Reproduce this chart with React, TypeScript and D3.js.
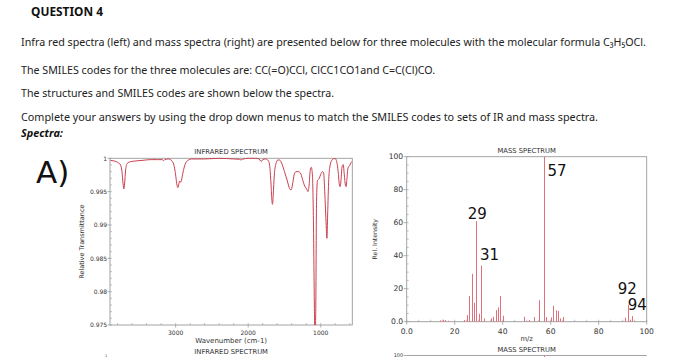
import React from "react";
import * as d3 from "d3";

// ---------- data ----------
const irWavenumber = [
  3900, 3850, 3800, 3760, 3740, 3725, 3714, 3703, 3690, 3670, 3620, 3550, 3450, 3350, 3250, 3185, 3165, 3150, 3100,
  3050, 3020, 3000, 2985, 2970, 2955, 2945, 2932, 2920, 2900, 2870, 2830, 2780, 2600, 2400, 2200, 2120, 2100, 2080,
  2000, 1900, 1850, 1830, 1815, 1800, 1760, 1720, 1700, 1685, 1672, 1665, 1655, 1640, 1620, 1590, 1570, 1540, 1500,
  1460, 1430, 1410, 1390, 1365, 1340, 1310, 1280, 1250, 1220, 1195, 1175, 1160, 1145, 1130, 1115, 1100, 1088, 1078,
  1068, 1058, 1045, 1020, 1000, 975, 960, 945, 925, 915, 905, 890, 870, 850, 820, 800, 780, 760, 745, 732, 720, 705,
  690, 675, 660, 650, 640, 625, 600, 580, 565,
];
const irTransmittance = [
  0.9997, 0.9996, 0.9994, 0.999, 0.998, 0.9962, 0.9954, 0.9963, 0.9982, 0.9992, 0.9995, 0.9996, 0.9997, 0.9998,
  0.9998, 0.9998, 0.99965, 0.9998, 0.9999, 0.9996, 0.9988, 0.9975, 0.9962, 0.9956, 0.9962, 0.9966, 0.9964, 0.9967,
  0.9978, 0.9991, 0.9997, 0.9999, 0.9999, 1.0, 0.9999, 0.99985, 0.99975, 0.99985, 1.0, 1.0, 0.9999, 0.9996, 0.99955,
  0.9998, 0.9999, 0.9996, 0.9985, 0.996, 0.9935, 0.9931, 0.9945, 0.9975, 0.9991, 0.99975, 0.99975, 0.9993, 0.998,
  0.9966, 0.99545, 0.99525, 0.996, 0.9976, 0.998, 0.998, 0.9978, 0.9968, 0.9958, 0.9954, 0.995, 0.996, 0.9982,
  0.99865, 0.9975, 0.99, 0.978, 0.9725, 0.978, 0.9935, 0.99665, 0.997, 0.9976, 0.998, 0.9978, 0.995, 0.99, 0.988,
  0.9915, 0.9968, 0.999, 0.99965, 0.99995, 0.99995, 0.9995, 0.998, 0.9962, 0.99575, 0.9968, 0.9988, 0.99905, 0.9975,
  0.996, 0.99575, 0.9968, 0.9985, 0.99895, 0.9994, 0.99955,
];
const irYTicks = [1, 0.995, 0.99, 0.985, 0.98, 0.975];
const irYTickLabels = ["1", "0.995", "0.99", "0.985", "0.98", "0.975"];
const irXTicks = [3000, 2000, 1000];

const msMz = [
  14, 15, 16, 17, 24, 25, 26, 27, 28, 29, 30, 31, 32, 35, 36, 37, 38, 39, 40, 49, 51, 53, 55, 57, 58, 60, 61, 62, 63,
  64, 65, 91, 92, 93, 94,
];
const msIntensity = [
  0.8, 1.2, 1.0, 0.6, 1.0, 4.0, 15.5, 29, 11.5, 61, 4.8, 34, 2.0, 2.0, 3.0, 7.0, 8.7, 15.6, 3.6, 3.0, 1.0, 2.8, 13,
  100, 2.8, 2.6, 9.7, 6.9, 6.5, 2.0, 2.8, 2.4, 10.3, 1.2, 3.4,
];
const msYTicks = [0, 20, 40, 60, 80, 100];
const msYTickLabels = ["0.0", "20", "40", "60", "80", "100"];
const msXTicks = [0, 20, 40, 60, 80, 100];
const msXTickLabels = ["0.0", "20", "40", "60", "80", "100"];
const msLabelText = ["57", "29", "31", "92", "94"];
const msLabelMz = [58.7, 25.4, 30.5, 87.9, 92.1];
const msLabelAt = [88.5, 62.4, 37.6, 17.0, 7.3];

const headerLines = [
  "Infra red spectra (left) and mass spectra (right) are presented below for three molecules with the molecular formula C\u2083H\u2085OCl.",
  "The SMILES codes for the three molecules are: CC(=O)CCl, ClCC1CO1and C=C(Cl)CO.",
  "The structures and SMILES codes are shown below the spectra.",
  "Complete your answers by using the drop down menus to match the SMILES codes to sets of IR and mass spectra.",
];

// ---------- component ----------
export default function App() {
  const W = 700;
  const H = 357;

  // IR
  const irL = 110, irR = 352.3, irT = 158.3, irB = 325;
  const irX = d3.scaleLinear().domain([3905, 565]).range([irL, irR]);
  const irY = d3.scaleLinear().domain([0.975, 1]).range([irB, irT]);
  const irPts = irWavenumber.map((w, i) => [irX(w), irY(irTransmittance[i])] as [number, number]);
  const irPath = d3.line().curve(d3.curveMonotoneX)(irPts) || "";
  const irMinorY = d3.range(0.975, 1.0001, 0.001);
  const irMinorX = d3.range(3800, 565, -200);

  // MS
  const msL = 406.7, msR = 646.7, msT = 156.7, msB = 321.7;
  const msX = d3.scaleLinear().domain([0, 100]).range([msL, msR]);
  const msY = d3.scaleLinear().domain([0, 100]).range([msB, msT]);
  const msMinor = d3.range(0, 100.1, 5);
  const px = (v: number) => Math.round(v) + 0.5;

  const font = "'DejaVu Sans', sans-serif";
  const bodyFont = "'Noto Sans', 'Open Sans', sans-serif";
  const frame = "#9a9a9a";
  const txt = "#333";
  const peak = "#e0707c";
  const bodySize = 11.2;

  return (
    <svg width={W} height={H} style={{ position: "absolute", left: 0, top: 0, background: "#fff" }}>
      <rect x={0} y={0} width={W} height={H} fill="#fff" />
      {/* Header */}
      <text x={31} y={16} fontFamily={bodyFont} fontWeight="bold" fontSize={12.5} fill="#111" textLength={72} lengthAdjust="spacingAndGlyphs">
        QUESTION 4
      </text>
      <text x={21} y={45.5} fontFamily={bodyFont} fontSize={bodySize} fill="#222" textLength={625} lengthAdjust="spacingAndGlyphs">
        {headerLines[0]}
      </text>
      <text x={21} y={74} fontFamily={bodyFont} fontSize={bodySize} fill="#222" textLength={414} lengthAdjust="spacingAndGlyphs">
        {headerLines[1]}
      </text>
      <text x={21} y={96.5} fontFamily={bodyFont} fontSize={bodySize} fill="#222" textLength={313} lengthAdjust="spacingAndGlyphs">
        {headerLines[2]}
      </text>
      <text x={21} y={120.5} fontFamily={bodyFont} fontSize={bodySize} fill="#222" textLength={577} lengthAdjust="spacingAndGlyphs">
        {headerLines[3]}
      </text>
      <text x={21} y={137} fontFamily={bodyFont} fontSize={11.2} fontWeight="bold" fontStyle="italic" fill="#111" textLength={42} lengthAdjust="spacingAndGlyphs">
        Spectra:
      </text>
      <text x={36} y={183} fontFamily={font} fontSize={31} fill="#111">
        A)
      </text>

      {/* IR chart */}
      <defs>
        <clipPath id="irclip">
          <rect x={irL} y={irT - 1} width={irR - irL} height={irB - irT + 1} />
        </clipPath>
      </defs>
      <text x={(irL + irR) / 2} y={154.3} textAnchor="middle" fontFamily={font} fontSize={6.8} fill={txt}>
        INFRARED SPECTRUM
      </text>
      {irMinorY.map((v, i) => (
        <line key={"iym" + i} x1={irL} x2={irL + 2} y1={irY(v)} y2={irY(v)} stroke={frame} strokeWidth={0.6} />
      ))}
      {irMinorX.map((v, i) => (
        <line key={"ixm" + i} x1={irX(v)} x2={irX(v)} y1={irB} y2={irB - 2} stroke={frame} strokeWidth={0.6} />
      ))}
      {irYTicks.map((v, i) => (
        <g key={"iy" + i}>
          <line x1={irL - 2.5} x2={irL} y1={irY(v)} y2={irY(v)} stroke={frame} strokeWidth={0.8} />
          <text x={irL - 2.8} y={irY(v) + 2.2} textAnchor="end" fontFamily={font} fontSize={6} fill={txt}>
            {irYTickLabels[i]}
          </text>
        </g>
      ))}
      {irXTicks.map((v, i) => (
        <g key={"ix" + i}>
          <line x1={irX(v)} x2={irX(v)} y1={irB} y2={irB + 2.5} stroke={frame} strokeWidth={0.8} />
          <text x={irX(v)} y={334.5} textAnchor="middle" fontFamily={font} fontSize={6} fill={txt}>
            {v}
          </text>
        </g>
      ))}
      <rect x={irL} y={irT} width={irR - irL} height={irB - irT} fill="none" stroke={frame} strokeWidth={0.9} />
      <path d={irPath} fill="none" stroke="#c9404f" strokeWidth={1} clipPath="url(#irclip)" />
      <text x={(irL + irR) / 2} y={342.8} textAnchor="middle" fontFamily={font} fontSize={7} fill={txt}>
        Wavenumber (cm-1)
      </text>
      <text x={(irL + irR) / 2} y={354.2} textAnchor="middle" fontFamily={font} fontSize={6.8} fill={txt}>
        INFRARED SPECTRUM
      </text>
      <text transform={`translate(83.5,${(irT + irB) / 2}) rotate(-90)`} textAnchor="middle" fontFamily={font} fontSize={6.5} fill={txt}>
        Relative Transmittance
      </text>
      <text x={irL - 2.8} y={356.5} textAnchor="end" fontFamily={font} fontSize={3.5} fill={txt}>
        1
      </text>

      {/* Mass spectrum */}
      <text x={(msL + msR) / 2} y={152.7} textAnchor="middle" fontFamily={font} fontSize={6.8} fill={txt}>
        MASS SPECTRUM
      </text>
      {msMinor.map((v, i) => (
        <g key={"mm" + i}>
          <line x1={msL} x2={msL + 2} y1={msY(v)} y2={msY(v)} stroke={frame} strokeWidth={0.6} />
          <line x1={msX(v)} x2={msX(v)} y1={msB} y2={msB - 2} stroke={frame} strokeWidth={0.6} />
        </g>
      ))}
      {msYTicks.map((v, i) => (
        <g key={"my" + i}>
          <line x1={msL - 3} x2={msL} y1={msY(v)} y2={msY(v)} stroke={frame} strokeWidth={0.8} />
          <text x={msL - 3.5} y={msY(v) + 2.7} textAnchor="end" fontFamily={font} fontSize={7.6} fill={txt}>
            {msYTickLabels[i]}
          </text>
        </g>
      ))}
      {msXTicks.map((v, i) => (
        <g key={"mx" + i}>
          <line x1={msX(v)} x2={msX(v)} y1={msB} y2={msB + 3} stroke={frame} strokeWidth={0.8} />
          <text x={msX(v)} y={333.8} textAnchor="middle" fontFamily={font} fontSize={7.6} fill={txt}>
            {msXTickLabels[i]}
          </text>
        </g>
      ))}
      <rect x={msL} y={msT} width={msR - msL} height={msB - msT} fill="none" stroke={frame} strokeWidth={0.9} />
      {msMz.map((m, i) => (
        <line key={"pk" + i} x1={px(msX(m))} x2={px(msX(m))} y1={msY(0)} y2={msY(msIntensity[i])} stroke={peak} strokeWidth={1} />
      ))}
      {msLabelText.map((t, i) => (
        <text key={"pl" + i} x={msX(msLabelMz[i])} y={msY(msLabelAt[i])} fontFamily={font} fontSize={15} fill="#111">
          {t}
        </text>
      ))}
      <text x={(msL + msR) / 2} y={341} textAnchor="middle" fontFamily={font} fontSize={6.8} fill={txt}>
        m/z
      </text>
      <text x={(msL + msR) / 2} y={352.3} textAnchor="middle" fontFamily={font} fontSize={6.8} fill={txt}>
        MASS SPECTRUM
      </text>
      <text transform={`translate(377,${(msT + msB) / 2}) rotate(-90)`} textAnchor="middle" fontFamily={font} fontSize={6.2} fill={txt}>
        Rel. Intensity
      </text>
      {/* top edge of the next mass spectrum */}
      <line x1={msL} x2={msR} y1={355.5} y2={355.5} stroke={frame} strokeWidth={0.9} />
      <line x1={msL - 3} x2={msL} y1={355.5} y2={355.5} stroke={frame} strokeWidth={0.8} />
      <line x1={px(msX(57))} x2={px(msX(57))} y1={355.5} y2={357} stroke={peak} strokeWidth={1} />
      <text x={msL - 3.5} y={356.8} textAnchor="end" fontFamily={font} fontSize={5} fill={txt}>
        100
      </text>
    </svg>
  );
}
